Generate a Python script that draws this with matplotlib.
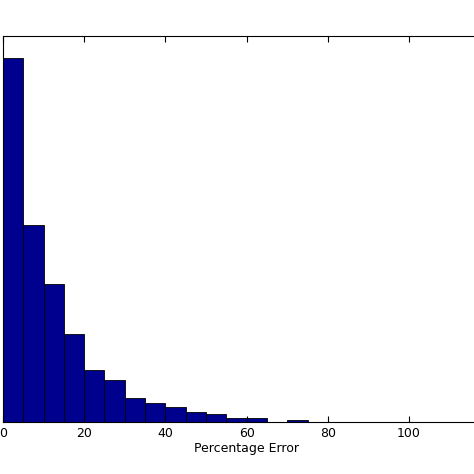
import matplotlib
matplotlib.use("Agg")
import matplotlib.pyplot as plt
import numpy as np

bin_edges = np.arange(0, 80, 5)
counts = [1092, 590, 413, 262, 156, 124, 72, 57, 45, 28, 22, 11, 10, 0, 6]
ymax = 1157

fig = plt.figure(figsize=(4.74, 4.74), dpi=100)
ax = fig.add_axes([3/474, 0.1103, 120*4.06/474, 0.814])
ax.bar(bin_edges[:-1], counts, width=5, align='edge', color='#00008f', edgecolor='black', linewidth=0.6)
ax.set_xlim(0, 120)
ax.set_ylim(0, ymax)
ax.set_xticks([0, 20, 40, 60, 80, 100])
ax.set_yticks([])
ax.tick_params(direction='in', top=True, labelsize=9, length=4)
ax.set_xlabel('Percentage Error', fontsize=9, labelpad=2)
fig.savefig('out.png', dpi=100)
